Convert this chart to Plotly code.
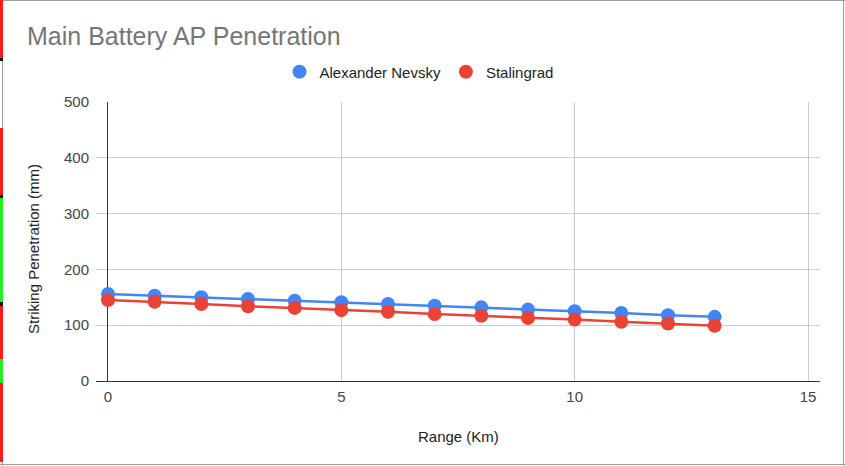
import plotly.graph_objects as go

range_km = [0, 1, 2, 3, 4, 5, 6, 7, 8, 9, 10, 11, 12, 13]
nevsky = [156, 153, 150, 147, 144, 141, 138, 135, 132, 128, 125, 122, 118, 115]
stalingrad = [145, 142, 138, 134, 131, 127, 124, 120, 117, 113, 110, 106, 103, 99]
series_names = ["Alexander Nevsky", "Stalingrad"]
series_colors = ["#4285F4", "#EA4335"]
y_ticks = [0, 100, 200, 300, 400, 500]
x_ticks = [0, 5, 10, 15]

FONT = "Arial, Liberation Sans, sans-serif"
W, H = 845, 466
L, R, T, B = 96, 25, 102, 85
PW, PH = W - L - R, H - T - B


def px(x):
    return (x - L) / PW


def py(y):
    return (H - B - y) / PH


fig = go.Figure()
for name, vals, col in zip(series_names, [nevsky, stalingrad], series_colors):
    fig.add_trace(go.Scatter(
        x=range_km, y=vals, mode="lines+markers", name=name,
        line=dict(color=col, width=2.5),
        marker=dict(color=col, size=14, line=dict(width=0)),
        showlegend=False, hoverinfo="x+y+name"))
for name, col in zip(series_names, series_colors):
    fig.add_trace(go.Scatter(
        x=[None], y=[None], mode="markers", name=name,
        marker=dict(color=col, size=14, line=dict(width=0)),
        showlegend=True))

# frame and left-edge strips (from the screenshot)
shapes = [
    dict(type="line", xref="paper", yref="paper", x0=px(0), x1=px(W), y0=py(0.5), y1=py(0.5),
         line=dict(color="#9e9e9e", width=1)),
    dict(type="line", xref="paper", yref="paper", x0=px(0), x1=px(W), y0=py(464.5), y1=py(464.5),
         line=dict(color="#9e9e9e", width=1)),
    dict(type="line", xref="paper", yref="paper", x0=px(843.5), x1=px(843.5), y0=py(0), y1=py(H),
         line=dict(color="#9e9e9e", width=1)),
    dict(type="line", xref="paper", yref="paper", x0=px(2.5), x1=px(2.5), y0=py(0), y1=py(H),
         line=dict(color="#9e9e9e", width=1)),
]
strips = [(0, 58, "#ff1a1a"), (58, 61, "#111111"), (128, 195, "#ff1a1a"), (195, 198, "#111111"),
          (198, 302, "#22ee22"), (302, 306, "#111111"), (306, 359, "#ff1a1a"),
          (359, 383, "#22ee22"), (383, 462, "#ff1a1a")]
for y0, y1, c in strips:
    shapes.append(dict(type="rect", xref="paper", yref="paper", x0=px(0), x1=px(3),
                       y0=py(y1), y1=py(y0), fillcolor=c, line=dict(width=0), layer="above"))

fig.update_layout(
    width=W, height=H,
    margin=dict(l=L, r=R, t=T, b=B),
    paper_bgcolor="white", plot_bgcolor="white",
    font=dict(family=FONT, size=15, color="#222222"),
    title=dict(text="Main Battery AP Penetration", xref="container", yref="container",
               x=27 / W, xanchor="left", y=1 - 36 / H, yanchor="middle",
               font=dict(family=FONT, size=25, color="#757575")),
    legend=dict(orientation="h", x=px(419), xanchor="center", y=py(72), yanchor="middle",
                font=dict(family=FONT, size=15, color="#222222"), bgcolor="rgba(0,0,0,0)",
                itemclick=False),
    xaxis=dict(range=[-0.257, 15.257], tickvals=x_ticks, showgrid=True, gridcolor="#cccccc",
               gridwidth=1, zeroline=True, zerolinecolor="#333333", zerolinewidth=1,
               showline=False, ticks="", tickfont=dict(family=FONT, size=15, color="#444444"),
               ticklabelstandoff=5, fixedrange=True),
    yaxis=dict(range=[0, 500], tickvals=y_ticks, showgrid=True, gridcolor="#cccccc",
               gridwidth=1, zeroline=True, zerolinecolor="#333333", zerolinewidth=1,
               showline=False, ticks="", tickfont=dict(family=FONT, size=15, color="#444444"),
               ticklabelstandoff=6, fixedrange=True),
    shapes=shapes,
    annotations=[
        dict(text="Range (Km)", xref="paper", yref="paper", x=px(458), y=py(436),
             xanchor="center", yanchor="middle", showarrow=False,
             font=dict(family=FONT, size=15, color="#222222")),
        dict(text="Striking Penetration (mm)", xref="paper", yref="paper", x=px(33), y=py(249),
             xanchor="center", yanchor="middle", showarrow=False, textangle=-90,
             font=dict(family=FONT, size=15, color="#222222")),
    ],
)

fig.write_html("out.html")
